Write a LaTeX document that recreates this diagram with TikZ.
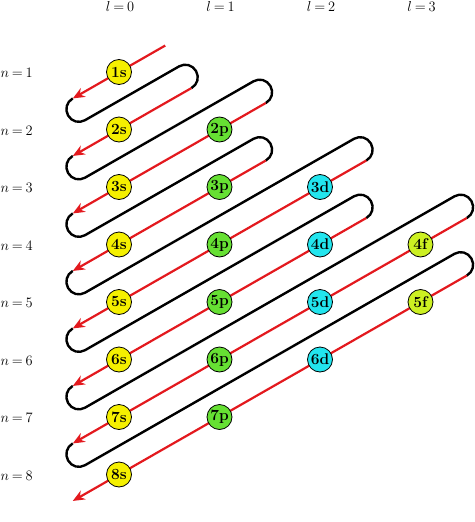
\documentclass[tikz,border=0pt]{standalone}
\usetikzlibrary{calc,arrows.meta}
\definecolor{sc}{HTML}{F5F000}
\definecolor{pc}{HTML}{66E033}
\definecolor{dc}{HTML}{22E5EE}
\definecolor{fc}{HTML}{CCF022}
\definecolor{rc}{HTML}{E3191E}
\newcommand{\tighteq}{\mathrel{\mkern-1.5mu=\mkern-1.5mu}}
\pgfdeclarelayer{bg}\pgfsetlayers{bg,main}
\begin{document}
\begin{tikzpicture}[x=1pt,y=-1pt,
 orb/.style={circle,draw=black,line width=0.8pt,minimum size=25pt,inner sep=0pt,font=\fontsize{15.5}{15.5}\selectfont\bfseries},
 redarrow/.style={draw=rc,line width=2.2pt,-{Stealth[length=12pt,width=10pt]}},
 blackloop/.style={draw=black,line width=2.4pt,rounded corners=12.2pt},
 lbl/.style={font=\fontsize{14}{14}\selectfont,inner sep=0pt}]
\useasboundingbox (0,0) rectangle (474,522);
\coordinate (u) at (100.5,-57.5);
\coordinate (h) at (12.39,21.66);
% orbitals
\foreach \n in {1,...,8} \node[orb,fill=sc] (s\n) at (119,{72+57.5*(\n-1)}) {\n s};
\foreach \n in {2,...,7} \node[orb,fill=pc] (p\n) at (219.5,{72+57.5*(\n-1)}) {\n p};
\foreach \n in {3,...,6} \node[orb,fill=dc] (d\n) at (320,{72+57.5*(\n-1)}) {\n d};
\foreach \n in {4,5} \node[orb,fill=fc] (f\n) at (420.5,{72+57.5*(\n-1)}) {\n f};
% labels
\foreach \n in {1,...,8} \node[lbl,anchor=base west] (n\n) at (0.5,{77.5+57.5*(\n-1)}) {$n\tighteq\n$};
\foreach \l in {0,...,3} \node[lbl,anchor=base] (l\l) at ({120+100.5*\l},12) {$l\tighteq\l$};
% start and tip points of the diagonals
\foreach \k/\t in {1/0.46,2/0.72,3/1.46,4/1.46,5/2.46,6/2.46,7/3.46,8/3.46} {
 \coordinate (a\k) at ($(s\k)+\t*(u)$);
 \coordinate (b\k) at ($(s\k)-0.46*(u)$);
}
\begin{pgfonlayer}{bg}
\foreach \k [evaluate=\k as \j using int(\k+1)] in {1,...,7}
 \draw[blackloop] (b\k) -- ($(b\k)-0.1078*(u)$) -- ($(b\k)-0.1078*(u)+(h)$)
   -- ($(a\j)+0.1078*(u)-(h)$) -- ($(a\j)+0.1078*(u)$) -- (a\j);
\foreach \k in {1,...,8} \draw[redarrow] (a\k) -- (b\k);
\end{pgfonlayer}
\end{tikzpicture}
\end{document}
